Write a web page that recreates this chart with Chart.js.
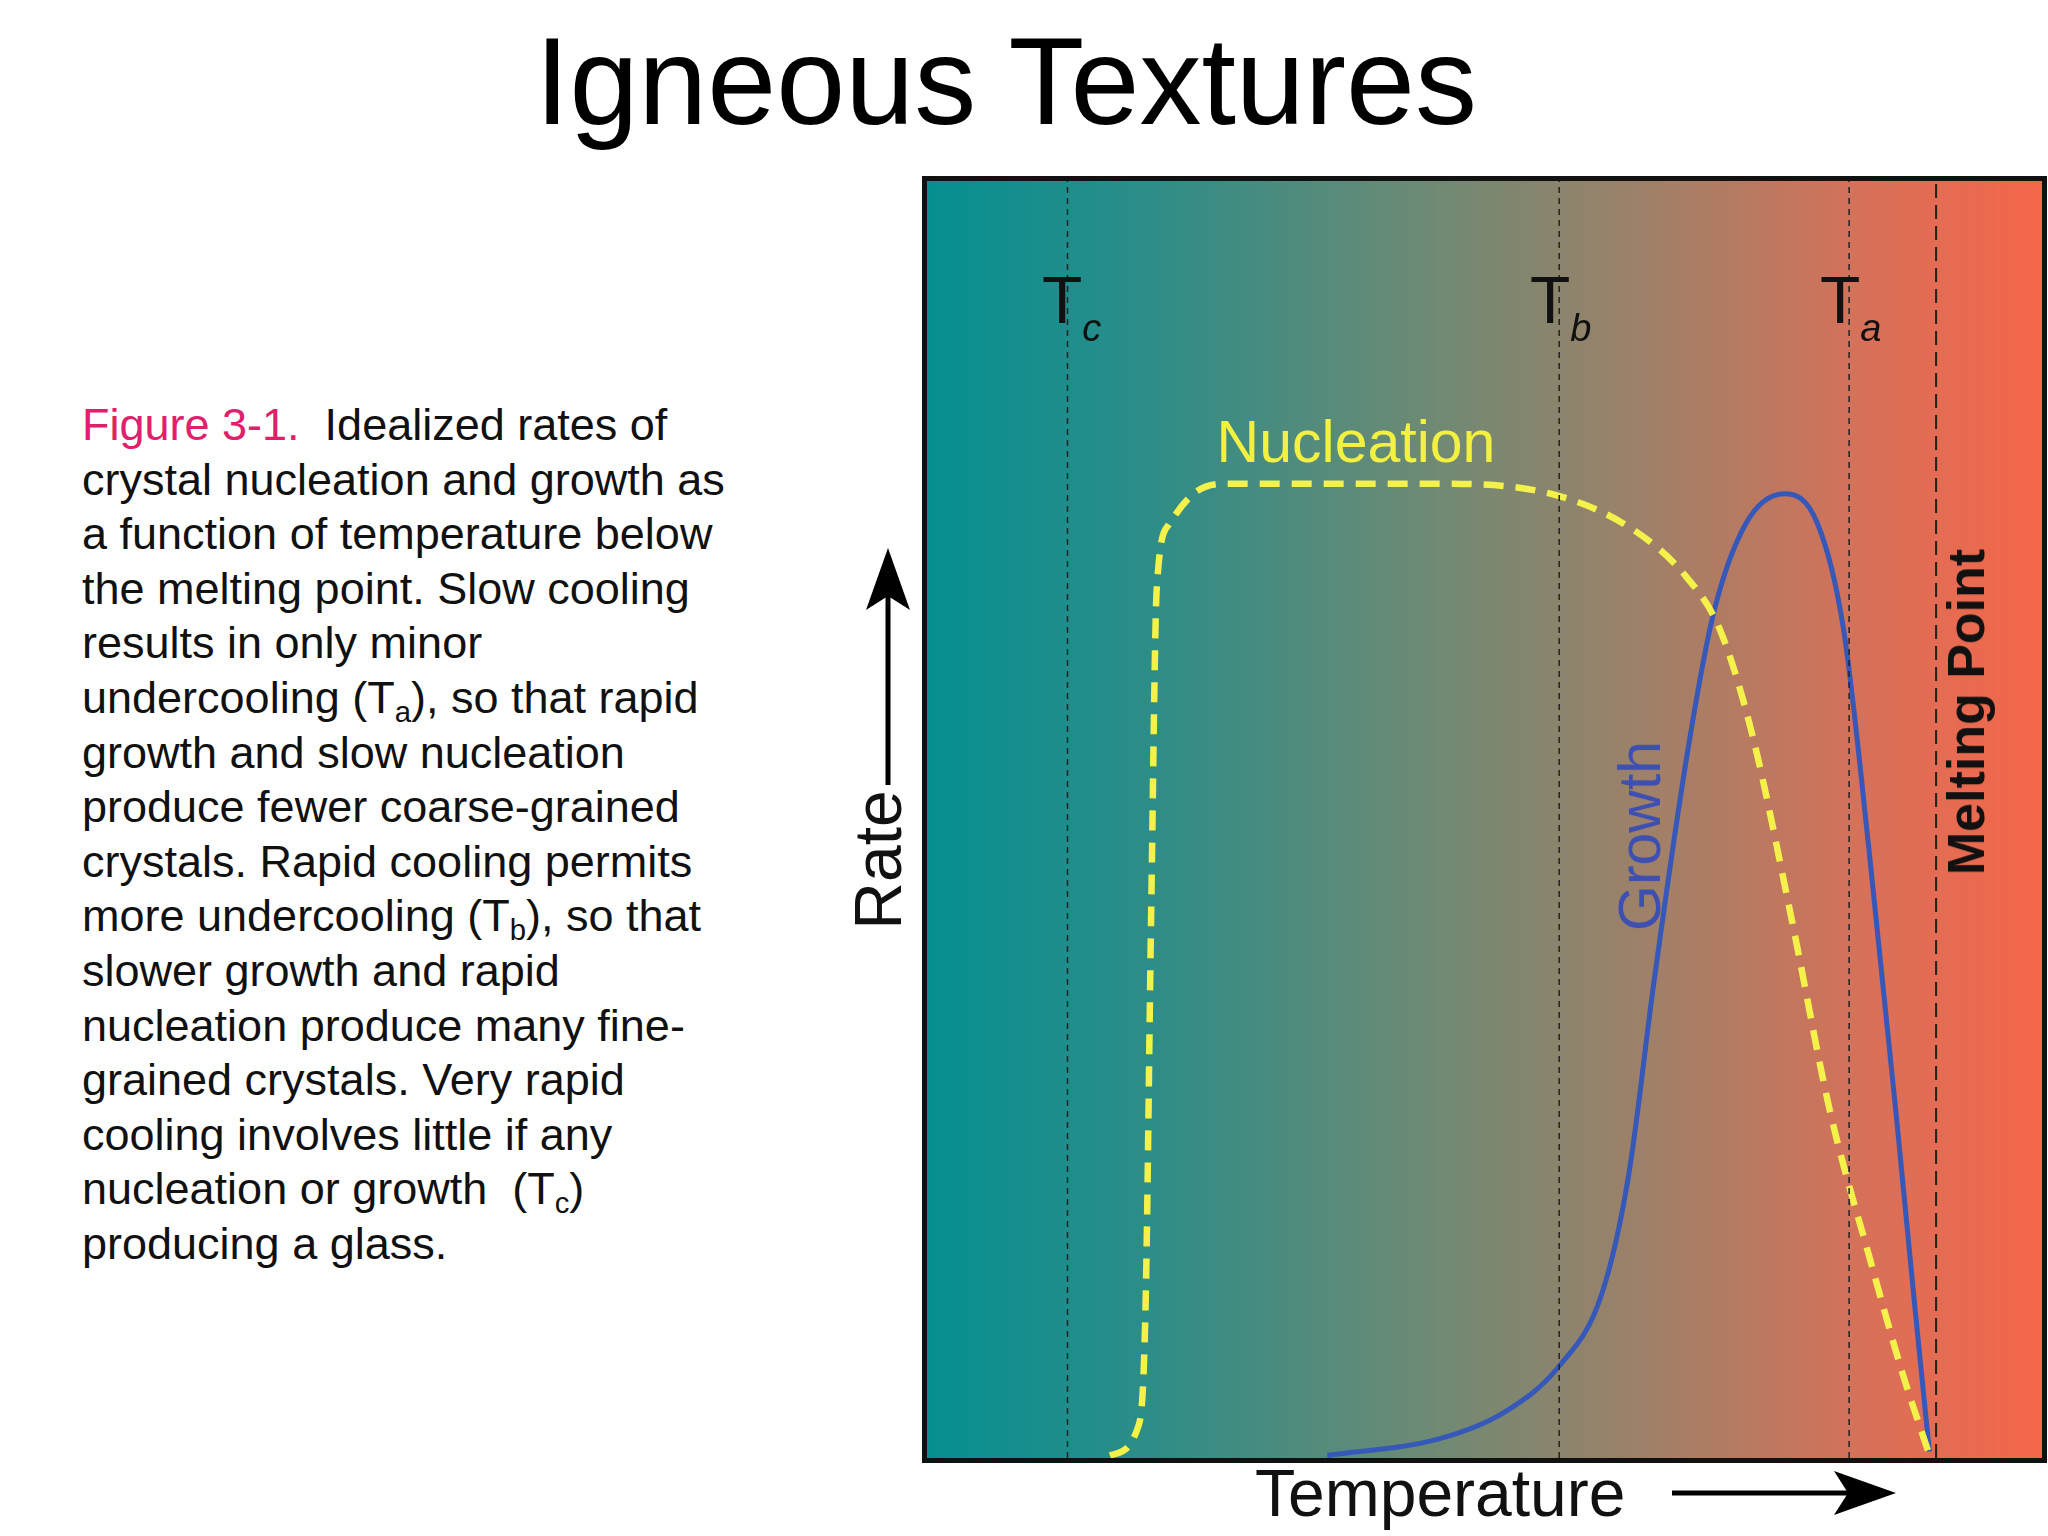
<!DOCTYPE html>
<html>
<head>
<meta charset="utf-8">
<script src="https://cdn.jsdelivr.net/npm/chart.js@4"></script>
<style>
  body { margin: 0; width: 2048px; height: 1536px; background: #fff; position: relative; overflow: hidden; font-family: "Liberation Sans", Arial, sans-serif; }
  .t { position: absolute; white-space: nowrap; }
  #box { position: absolute; left: 922px; top: 176px; width: 1115px; height: 1277px; border: 5px solid #111; }
  #caption { left: 82px; top: 398px; font-size: 45px; line-height: 54.6px; color: #111; }
  #caption span.r { color: #e0206a; }
  sub { font-size: 0.65em; vertical-align: -0.3em; line-height: 0; }
  .tl { font-size: 66px; color: #111; }
  .tl i { font-size: 38px; position: relative; top: 18px; }
  .rot { transform: translate(-50%, -50%) rotate(-90deg); }
</style>
</head>
<body>
<div class="t" style="left:1006px; top:81px; transform:translate(-50%,-50%); font-size:124px; color:#000;">Igneous Textures</div>
<div id="caption" class="t">
<span class="r">Figure 3-1.</span>&nbsp; Idealized rates of<br>
crystal nucleation and growth as<br>
a function of temperature below<br>
the melting point. Slow cooling<br>
results in only minor<br>
undercooling (T<sub>a</sub>), so that rapid<br>
growth and slow nucleation<br>
produce fewer coarse-grained<br>
crystals. Rapid cooling permits<br>
more undercooling (T<sub>b</sub>), so that<br>
slower growth and rapid<br>
nucleation produce many fine-<br>
grained crystals. Very rapid<br>
cooling involves little if any<br>
nucleation or growth&nbsp; (T<sub>c</sub>)<br>
producing a glass.
</div>
<div id="box"><canvas id="c"></canvas></div>
<div class="t tl" style="left:1042px; top:262px;">T<i>c</i></div>
<div class="t tl" style="left:1530px; top:262px;">T<i>b</i></div>
<div class="t tl" style="left:1820px; top:262px;">T<i>a</i></div>
<div class="t" style="left:1356px; top:442px; transform:translate(-50%,-50%); font-size:59px; color:#f2f040;">Nucleation</div>
<div class="t rot" style="left:1640px; top:836px; font-size:59px; color:#3d4fb0;">Growth</div>
<div class="t rot" style="left:1966px; top:712px; font-size:52px; color:#111; font-weight:bold;">Melting Point</div>
<div class="t rot" style="left:878px; top:860px; font-size:66px; color:#111;">Rate</div>
<div class="t" style="left:1255px; top:1493px; transform:translateY(-50%); font-size:66px; color:#111;">Temperature</div>
<svg style="position:absolute; left:0; top:0;" width="2048" height="1536">
  <line x1="888" y1="785" x2="888" y2="585" stroke="#000" stroke-width="5"/>
  <polygon points="888,548 866,610 888,596 910,610" fill="#000"/>
  <line x1="1672" y1="1493" x2="1850" y2="1493" stroke="#000" stroke-width="5"/>
  <polygon points="1896,1493 1834,1471 1848,1493 1834,1515" fill="#000"/>
</svg>
<script>
// x = temperature (0..100 across box), y = rate (0..100)
const nucX = [16.4, 19.0, 19.6, 20.1, 20.6, 21.7, 24.2, 27.2, 45.9, 56.4, 63.5, 68.1, 71.1, 74.0, 77.5, 81.0, 84.5, 87.5, 89.8];
const nucY = [0.2, 2.6, 11.8, 42.4, 68.0, 73.1, 75.7, 76.3, 76.3, 75.4, 72.6, 69.0, 64.9, 56.7, 42.4, 27.1, 15.8, 6.6, 0.5];
const growX = [35.9, 45.9, 51.8, 56.7, 60.5, 62.9, 65.2, 68.1, 70.5, 73.4, 76.9, 79.9, 82.2, 84.5, 86.9, 88.6, 89.9];
const growY = [0.2, 1.5, 3.6, 7.2, 12.8, 22.0, 37.3, 54.7, 66.0, 73.1, 75.5, 73.1, 64.9, 47.5, 27.1, 11.8, 0.5];
const markerX = [12.6, 56.7, 82.7]; // Tc, Tb, Ta
const meltX = 90.5;

const pts = (xs, ys) => xs.map((x, i) => ({ x: x, y: ys[i] }));
const vline = (x, dash, w) => ({
  data: [{ x: x, y: 0 }, { x: x, y: 100 }],
  borderColor: "#222", borderWidth: w, borderDash: dash, pointRadius: 0, showLine: true
});

const bgPlugin = {
  id: "bg",
  beforeDraw(chart) {
    const { ctx, chartArea: a } = chart;
    const g = ctx.createLinearGradient(a.left, 0, a.right, 0);
    g.addColorStop(0, "#058f91");
    g.addColorStop(0.2, "#2d8d88");
    g.addColorStop(0.45, "#6e8a74");
    g.addColorStop(0.65, "#a08068");
    g.addColorStop(0.85, "#d97058");
    g.addColorStop(1, "#f5664a");
    ctx.save();
    ctx.fillStyle = g;
    ctx.fillRect(a.left, a.top, a.right - a.left, a.bottom - a.top);
    ctx.restore();
  }
};

new Chart(document.getElementById("c"), {
  type: "scatter",
  data: {
    datasets: [
      ...markerX.map((x) => vline(x, [6, 5], 1.5)),
      vline(meltX, [14, 7], 2),
      {
        data: pts(nucX, nucY), borderColor: "#f4f24a", borderWidth: 6.5, borderDash: [20, 12],
        pointRadius: 0, showLine: true, cubicInterpolationMode: "monotone"
      },
      {
        data: pts(growX, growY), borderColor: "#3658b8", borderWidth: 5,
        pointRadius: 0, showLine: true, cubicInterpolationMode: "monotone"
      }
    ]
  },
  options: {
    responsive: true,
    maintainAspectRatio: false,
    animation: false,
    layout: { padding: 0 },
    plugins: { legend: { display: false }, tooltip: { enabled: false } },
    scales: {
      x: { type: "linear", min: 0, max: 100, display: false },
      y: { min: 0, max: 100, display: false }
    }
  },
  plugins: [bgPlugin]
});
</script>
</body>
</html>
